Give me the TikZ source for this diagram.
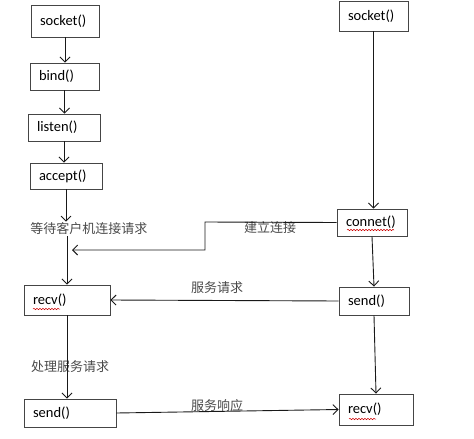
\documentclass[tikz,border=0pt]{standalone}
\usepackage{fontspec}
\setmainfont{Carlito}
\newfontfamily\cjk{Noto Sans CJK SC}
\usetikzlibrary{arrows.meta,decorations.pathmorphing}
\definecolor{boxc}{HTML}{454545}
\definecolor{labc}{HTML}{4a4a4a}
\tikzset{
  fbox/.style={draw=boxc, line width=0.9pt, inner xsep=9pt, inner ysep=0pt,
    align=left, font=\fontsize{14.5}{16}\selectfont},
  lbl/.style={text=labc, inner sep=1pt, font=\cjk\fontsize{13}{15}\selectfont},
  conn/.style={line width=0.9pt, draw=black!90, -{Straight Barb[length=5pt,width=10pt,line width=0.9pt]}},
  squig/.style={draw=red!80!black, line width=0.5pt, decorate,
    decoration={snake, amplitude=0.7pt, segment length=3pt}}
}
\begin{document}
\begin{tikzpicture}[x=1pt,y=-1pt]
\useasboundingbox (0,0) rectangle (474,439);
% left column
\node[fbox, text width=50pt, minimum height=32pt] (L1) at (65,21) {socket()};
\node[fbox, text width=51pt, minimum height=27pt] (L2) at (64.5,76.5) {bind()};
\node[fbox, text width=54pt, minimum height=27pt] (L3) at (64,127.5) {listen()};
\node[fbox, text width=54pt, minimum height=26pt] (L4) at (66,176) {accept()};
\node[fbox, text width=68pt, minimum height=30pt] (L5) at (67,300) {recv()};
\node[fbox, text width=74pt, minimum height=28pt] (L6) at (70,413) {send()};
% right column
\node[fbox, text width=51pt, minimum height=30pt] (R1) at (373.5,16) {socket()};
\node[fbox, text width=52pt, minimum height=27pt] (R2) at (372,222.5) {connet()};
\node[fbox, text width=52pt, minimum height=28pt] (R3) at (374,301) {send()};
\node[fbox, text width=56pt, minimum height=31pt] (R4) at (376,409.5) {recv()};
% labels
\node[lbl] (wait) at (89,229) {等待客户机连接请求};
\node[lbl] (conlab) at (270,228) {建立连接};
\node[lbl] (reqlab) at (217,288) {服务请求};
\node[lbl] (proclab) at (70,367) {处理服务请求};
\node[lbl] (resplab) at (217,406) {服务响应};
% coordinates
\coordinate (tipA) at (72,250);
\coordinate (bendA) at (205,222);
\coordinate (bendB) at (205,250);
% left connectors
\draw[conn] (L1.south) -- (L1.south |- L2.north);
\draw[conn] (L2.south) -- (L2.south |- L3.north);
\draw[conn] (L3.south) -- (L3.south |- L4.north);
\draw[conn] (L4.south) -- (L4.south |- wait.north);
\draw[conn] (L5.north |- wait.south) -- (L5.north);
\draw[conn] (L5.south) -- (L5.south |- L6.north);
% right connectors
\draw[conn] (R1.south) -- (R1.south |- R2.north);
\draw[conn] (R2.south) -- (R3.north);
\draw[conn] (R3.south) -- (R4.north);
% cross connectors
\draw[conn] (R2.west) -- (bendA) -- (bendB) -- (tipA);
\draw[conn] (R3.west) -- (L5.east);
\draw[conn] (L6.east) -- (R4.west);
% spell-check underlines
\draw[squig] (33,309) -- (60,309);
\draw[squig] (347,230) -- (394,230);
\draw[squig] (349,419) -- (376,419);
\end{tikzpicture}
\end{document}
